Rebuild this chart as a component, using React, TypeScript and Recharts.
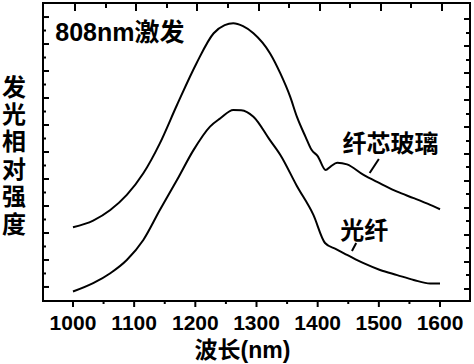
import React from 'react';
import { LineChart, Line, XAxis, YAxis, ReferenceDot, ReferenceLine } from 'recharts';

// ---- data ----
const coreNm = [1000, 1033, 1061, 1088, 1115, 1142, 1170, 1202, 1230, 1248, 1262, 1278, 1295, 1322, 1339, 1355, 1366, 1380, 1390, 1400, 1413, 1421, 1432, 1448, 1475, 1502, 1530, 1557, 1584, 1600];
const coreVal = [2.21, 2.46, 2.85, 3.41, 4.21, 5.32, 6.74, 8.29, 9.40, 9.70, 9.77, 9.66, 9.40, 8.66, 7.91, 7.05, 6.31, 5.57, 5.08, 4.85, 4.33, 4.46, 4.60, 4.54, 4.15, 3.84, 3.53, 3.29, 3.04, 2.88];

const fiberNm = [1000, 1033, 1061, 1088, 1115, 1142, 1170, 1197, 1224, 1241, 1262, 1275, 1295, 1322, 1339, 1366, 1393, 1412, 1430, 1448, 1475, 1502, 1530, 1557, 1584, 1600];
const fiberVal = [-0.17, 0.14, 0.51, 1.00, 1.74, 2.85, 3.96, 5.07, 5.94, 6.25, 6.56, 6.55, 6.31, 5.44, 4.89, 3.74, 2.67, 1.63, 1.40, 1.19, 0.88, 0.63, 0.44, 0.26, 0.13, 0.13];

const xTicks = [1000, 1050, 1100, 1150, 1200, 1250, 1300, 1350, 1400, 1450, 1500, 1550, 1600];
const yTicks = [0, 0.5, 1, 1.5, 2, 2.5, 3, 3.5, 4, 4.5, 5, 5.5, 6, 6.5, 7, 7.5, 8, 8.5, 9, 9.5, 10];
const xDomain = [951, 1649];
const yDomain = [-0.52, 10.52];

const yTitleChars = ['发', '光', '相', '对', '强', '度'];
const xTitle = '波长(nm)';
const excitationText = '808nm激发';
const coreLabel = '纤芯玻璃';
const fiberLabel = '光纤';

const coreData = coreNm.map((nm, i) => ({ nm, v: coreVal[i] }));
const fiberData = fiberNm.map((nm, i) => ({ nm, v: fiberVal[i] }));

const FONT = "'Liberation Sans', Arial, 'Noto Sans CJK SC', sans-serif";

// chart geometry
const CHART_W = 474;
const CHART_H = 364;
const MARGIN = { top: 3, right: 4, bottom: 0, left: 0 };
const Y_AXIS_W = 43;
const X_AXIS_H = 63;
const PLOT = {
  left: MARGIN.left + Y_AXIS_W,
  right: CHART_W - MARGIN.right,
  top: MARGIN.top,
  bottom: CHART_H - MARGIN.bottom - X_AXIS_H,
};
const xPos = (v: number) => PLOT.left + ((v - xDomain[0]) / (xDomain[1] - xDomain[0])) * (PLOT.right - PLOT.left);
const yPos = (v: number) => PLOT.top + ((yDomain[1] - v) / (yDomain[1] - yDomain[0])) * (PLOT.bottom - PLOT.top);

const BottomTick = (p: any) => {
  const { x, y, payload } = p;
  const major = payload.value % 100 === 0;
  return (
    <g>
      <line x1={x} x2={x} y1={y} y2={y + (major ? 6 : 3)} stroke="#000" strokeWidth={2} />
      {major && (
        <text x={x} y={y + 29} textAnchor="middle" fontFamily={FONT} fontWeight="bold" fontSize={21} fill="#000">
          {payload.value}
        </text>
      )}
    </g>
  );
};

const LeftTick = (p: any) => {
  const { x, y, payload } = p;
  const major = Number.isInteger(payload.value);
  return <line x1={x} x2={x + (major ? 6 : 3)} y1={y} y2={y} stroke="#000" strokeWidth={2} />;
};

const XTitle = (p: any) => {
  const vb = p.viewBox || {};
  return (
    <text x={vb.x + vb.width / 2 - 14} y={vb.y + 57} textAnchor="middle" fontFamily={FONT} fontWeight="bold" fontSize={23} fill="#000">
      {xTitle}
    </text>
  );
};

const YTitle = (p: any) => {
  const vb = p.viewBox || {};
  const cx = vb.x + 14;
  const cy = vb.y + vb.height / 2 + 3;
  const step = 27.4;
  return (
    <g>
      {yTitleChars.map((c, i) => (
        <text key={i} x={cx} y={cy + (i - 2.5) * step + 9} textAnchor="middle" fontFamily={FONT} fontWeight="bold" fontSize={24} fill="#000">
          {c}
        </text>
      ))}
    </g>
  );
};

const makeText = (text: string, size: number, anchor: string) => (p: any) => {
  const vb = p.viewBox || {};
  return (
    <text x={vb.x} y={vb.y} textAnchor={anchor} dominantBaseline="central" fontFamily={FONT} fontWeight="bold" fontSize={size} fill="#000">
      {text}
    </text>
  );
};

// frame (top / right edges with inward ticks) as an overlay on the plot box
const Frame = () => (
  <div
    style={{
      position: 'absolute',
      left: PLOT.left - 1,
      top: PLOT.top - 1,
      width: PLOT.right - PLOT.left + 2,
      height: PLOT.bottom - PLOT.top + 2,
      border: '2px solid #000',
      boxSizing: 'border-box',
      pointerEvents: 'none',
    }}
  >
    {xTicks.map((t) => {
      const len = t % 100 === 0 ? 7 : 4;
      return (
        <div
          key={'tt' + t}
          style={{ position: 'absolute', left: xPos(t) - PLOT.left, top: 0, width: 2, height: len, background: '#000' }}
        />
      );
    })}
    {yTicks.map((t) => {
      const len = Number.isInteger(t) ? 5 : 3;
      return (
        <div
          key={'rt' + t}
          style={{ position: 'absolute', right: 0, top: yPos(t) - PLOT.top, width: len, height: 2, background: '#000' }}
        />
      );
    })}
  </div>
);

export default function App() {
  const axisLine = { stroke: '#000', strokeWidth: 2 };
  return (
    <div style={{ position: 'absolute', left: 0, top: 0, width: CHART_W, height: CHART_H, background: '#fff', overflow: 'hidden' }}>
      <style>{'html,body{margin:0;overflow:hidden;}'}</style>
      <LineChart width={CHART_W} height={CHART_H} margin={MARGIN}>
        <XAxis
          type="number"
          dataKey="nm"
          domain={xDomain}
          ticks={xTicks}
          interval={0}
          allowDataOverflow
          height={X_AXIS_H}
          axisLine={axisLine}
          tickLine={false}
          tickSize={0}
          tickMargin={0}
          tick={(p: any) => <BottomTick {...p} />}
          label={{ content: (p: any) => <XTitle {...p} /> }}
        />
        <YAxis
          type="number"
          domain={yDomain}
          ticks={yTicks}
          interval={0}
          allowDataOverflow
          width={Y_AXIS_W}
          axisLine={axisLine}
          tickLine={false}
          tickSize={0}
          tickMargin={0}
          tick={(p: any) => <LeftTick {...p} />}
          label={{ content: (p: any) => <YTitle {...p} /> }}
        />
        <Line data={coreData} dataKey="v" type="monotone" stroke="#000" strokeWidth={2} dot={false} isAnimationActive={false} />
        <Line data={fiberData} dataKey="v" type="monotone" stroke="#000" strokeWidth={2} dot={false} isAnimationActive={false} />
        <ReferenceLine segment={[{ x: 1500, y: 4.74 }, { x: 1485, y: 4.22 }]} stroke="#000" strokeWidth={2} />
        <ReferenceLine segment={[{ x: 1463, y: 1.63 }, { x: 1456, y: 1.33 }]} stroke="#000" strokeWidth={2} />
        <ReferenceDot x={971} y={9.45} r={0} fill="none" stroke="none" label={{ content: makeText(excitationText, 25, 'start') }} />
        <ReferenceDot x={1519} y={5.3} r={0} fill="none" stroke="none" label={{ content: makeText(coreLabel, 24, 'middle') }} />
        <ReferenceDot x={1476} y={2.11} r={0} fill="none" stroke="none" label={{ content: makeText(fiberLabel, 24, 'middle') }} />
      </LineChart>
      <Frame />
    </div>
  );
}
